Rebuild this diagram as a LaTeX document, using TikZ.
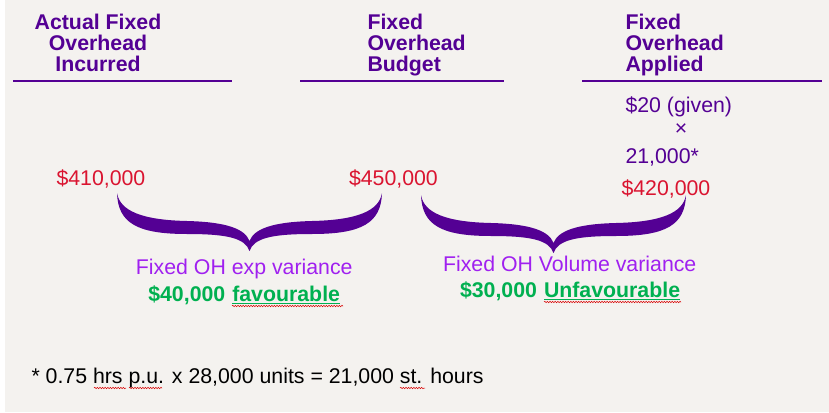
\documentclass[tikz,border=0pt]{standalone}
\usepackage{fontspec}
\setmainfont{Liberation Sans}
\usetikzlibrary{decorations.pathmorphing}
\definecolor{bgc}{RGB}{244,242,239}
\definecolor{hpurple}{RGB}{84,0,148}
\definecolor{vred}{RGB}{218,20,48}
\definecolor{lviolet}{RGB}{160,32,240}
\definecolor{ogreen}{RGB}{0,176,80}
\begin{document}
\begin{tikzpicture}[x=1pt,y=-1pt,
  every node/.style={inner sep=0pt,outer sep=0pt},
  hd/.style={text=hpurple,font=\fontsize{21.3}{21}\selectfont\bfseries},
  calc/.style={text=hpurple,font=\fontsize{21.3}{21}\selectfont},
  val/.style={text=vred,font=\fontsize{21.3}{21}\selectfont},
  lab/.style={text=lviolet,font=\fontsize{21.3}{21}\selectfont},
  gr/.style={text=ogreen,font=\fontsize{21.3}{21}\selectfont\bfseries},
  foot/.style={text=black,font=\fontsize{21.3}{21}\selectfont},
  hline/.style={draw=hpurple,line width=2pt},
  uline/.style={draw=ogreen,line width=1.4pt},
  squig/.style={draw=red!85!black,line width=0.5pt,decorate,decoration={snake,amplitude=0.7pt,segment length=2.6pt}},
  brace/.pic={
    \fill[hpurple] (0,0) .. controls (1,30) and (20,41) .. (70,41)
      .. controls (110,41) and (128,45) .. (132.5,58)
      .. controls (137,45) and (155,41) .. (195,41)
      .. controls (245,41) and (264,30) .. (265,0)
      .. controls (262,18) and (240,27) .. (195,28)
      .. controls (155,29) and (137,36) .. (132.5,48)
      .. controls (128,36) and (110,29) .. (70,28)
      .. controls (25,27) and (3,18) .. (0,0) -- cycle;
  }]
\fill[bgc] (0,0) rectangle (829,412);
\fill[white] (0,0) rectangle (5,412);
\useasboundingbox (0,0) rectangle (829,412);

% headings
\node[hd,anchor=base] (h1a) at (98,30) {Actual Fixed};
\node[hd,anchor=base] (h1b) at (98,51) {Overhead};
\node[hd,anchor=base] (h1c) at (98,71.5) {Incurred};
\node[hd,anchor=base west] (h2a) at (367.5,30) {Fixed};
\node[hd,anchor=base west] (h2b) at (367.5,51) {Overhead};
\node[hd,anchor=base west] (h2c) at (367.5,71.5) {Budget};
\node[hd,anchor=base west] (h3a) at (625.5,30) {Fixed};
\node[hd,anchor=base west] (h3b) at (625.5,51) {Overhead};
\node[hd,anchor=base west] (h3c) at (625.5,71.5) {Applied};

\draw[hline] (13,81) -- (232,81);
\draw[hline] (300,81) -- (504,81);
\draw[hline] (582,81) -- (822,81);

% calculation
\node[calc,anchor=base west] (g1) at (625.5,112) {\$20 (given)};
\node[calc,anchor=base] (g2) at (681,135) {×};
\node[calc,anchor=base west] (g3) at (625.5,163) {21,000*};

% values
\node[val,anchor=base west] (a1) at (56.5,185) {\$410,000};
\node[val,anchor=base west] (a2) at (349,185) {\$450,000};
\node[val,anchor=base west] (a3) at (621.5,195) {\$420,000};

% braces
\pic at (117,193) {brace};
\pic at (421,195) {brace};

% variance labels
\node[lab,anchor=base] (v1) at (244.3,274.3) {Fixed OH exp variance};
\node[gr,anchor=base west] (r1a) at (148.3,301.5) {\$40,000};
\node[gr,anchor=base west] (r1b) at (232.3,301.5) {favourable};
\draw[uline] ([yshift=-2pt]r1b.base west) -- ([yshift=-2pt]r1b.base east);
\draw[squig] (232,306) -- (343,306);

\node[lab,anchor=base] (v2) at (569.7,271) {Fixed OH Volume variance};
\node[gr,anchor=base west] (r2a) at (460,297.3) {\$30,000};
\node[gr,anchor=base west] (r2b) at (544,297.3) {Unfavourable};
\draw[uline] ([yshift=-2pt]r2b.base west) -- ([yshift=-2pt]r2b.base east);
\draw[squig] (544,302) -- (681,302);

% footnote
\node[foot,anchor=base west] (fn) at (31.5,383) {* 0.75 hrs p.u. x 28,000 units = 21,000 st. hours};
\draw[squig] (94,388) -- (126,388);
\draw[squig] (129,388) -- (162,388);
\draw[squig] (400,388) -- (425,388);
\end{tikzpicture}
\end{document}
